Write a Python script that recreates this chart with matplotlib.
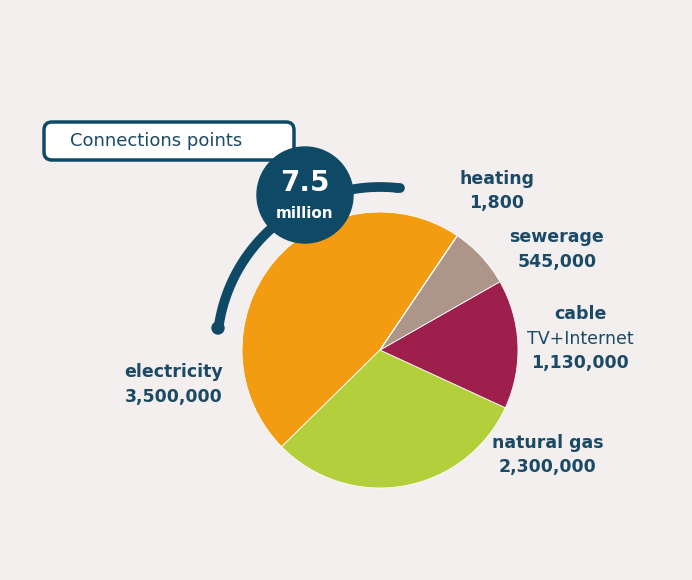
import matplotlib.pyplot as plt
import matplotlib.patches as mpatches
import numpy as np

labels = ["electricity", "natural gas", "cable", "sewerage", "heating"]
values = [3500000, 2300000, 1130000, 545000, 1800]
colors = ["#f39c12", "#b3cf3b", "#9e1f4b", "#ae958a", "#d9cfc9"]

NAVY = "#0e4a66"
TXT = "#1b4a66"
BG = "#f3efee"

fig = plt.figure(figsize=(6.92, 5.8), dpi=100, facecolor=BG)
ax = fig.add_axes([0, 0, 1, 1])
ax.set_xlim(0, 692)
ax.set_ylim(0, 580)
ax.set_aspect("equal")
ax.axis("off")

cx, cy = 380, 230
ax.pie(values, colors=colors, startangle=56, counterclock=True,
       center=(cx, cy), radius=138, frame=True,
       wedgeprops=dict(linewidth=0.6, edgecolor="white"))
ax.set_xlim(0, 692)
ax.set_ylim(0, 580)
ax.axis("off")

# arc around the pie
t = np.radians(np.linspace(84, 172, 100))
ax.plot(cx + 163 * np.cos(t), cy + 163 * np.sin(t), color=NAVY, lw=7,
        solid_capstyle="round")
ax.plot([cx + 163 * np.cos(np.radians(84)), 400], [cy + 163 * np.sin(np.radians(84)), 392],
        color=NAVY, lw=7, solid_capstyle="round")
ax.add_patch(mpatches.Circle((218, 252), 6, color=NAVY))

# bubble
ax.add_patch(mpatches.Circle((305, 385), 48, color=NAVY, zorder=5))
ax.text(305, 397, "7.5", color="white", fontsize=20, fontweight="bold",
        ha="center", va="center", zorder=6)
ax.text(305, 367, "million", color="white", fontsize=11, fontweight="bold",
        ha="center", va="center", zorder=6)

# title box
ax.add_patch(mpatches.FancyBboxPatch((44, 420), 250, 38,
             boxstyle="round,pad=0,rounding_size=8", fc="white", ec=NAVY, lw=2.5, zorder=4))
ax.text(70, 439, "Connections points", color=TXT, fontsize=13, va="center", zorder=6)

kw = dict(color=TXT, fontsize=12.5, ha="center", va="center")
ax.text(497, 401, "heating", fontweight="bold", **kw)
ax.text(497, 377, "1,800", fontweight="bold", **kw)
ax.text(557, 343, "sewerage", fontweight="bold", **kw)
ax.text(557, 318, "545,000", fontweight="bold", **kw)
ax.text(580, 266, "cable", fontweight="bold", **kw)
ax.text(580, 241, "TV+Internet", **kw)
ax.text(580, 217, "1,130,000", fontweight="bold", **kw)
ax.text(174, 208, "electricity", fontweight="bold", **kw)
ax.text(174, 183, "3,500,000", fontweight="bold", **kw)
ax.text(548, 137, "natural gas", fontweight="bold", **kw)
ax.text(548, 113, "2,300,000", fontweight="bold", **kw)

fig.savefig("out.png", dpi=100, facecolor=BG)
